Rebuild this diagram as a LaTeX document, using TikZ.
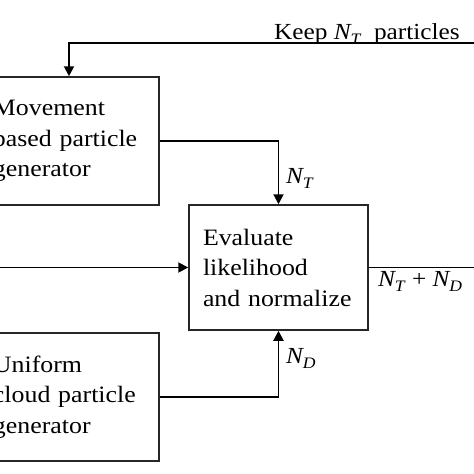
\documentclass[tikz,border=0pt]{standalone}
\usepackage{fontspec}
\setmainfont{Liberation Serif}[FakeStretch=1.1]
\usetikzlibrary{arrows.meta}
\newcommand{\NN}[1]{\textit{N}\kern-0.06em\raisebox{-0.25em}{\fontsize{16}{16}\selectfont\textit{#1}}}
\begin{document}
\begin{tikzpicture}[x=1pt,y=-1pt,
  box/.style={draw=black!85, line width=1.5pt, rectangle, inner xsep=14pt, inner ysep=0pt,
    align=left, font=\fontsize{23.5}{30.5}\selectfont, anchor=center},
  conn/.style={line width=1.9pt},
  arr/.style={conn, -{Triangle[length=10pt,width=10pt]}},
  lbl/.style={font=\fontsize{23}{28}\selectfont, inner sep=0pt}]
\useasboundingbox (0,0) rectangle (474,474);
\node[box, minimum width=180pt, minimum height=128pt, text width=152pt] (gen1) at (69,141)
  {Movement\\based particle\\generator};
\node[box, minimum width=179pt, minimum height=125pt, text width=151pt] (eval) at (278.5,267.5)
  {Evaluate\\likelihood\\and normalize};
\node[box, minimum width=180pt, minimum height=128pt, text width=152pt] (gen2) at (69,397)
  {Uniform\\cloud particle\\generator};
\coordinate (fb) at (490,43);
\coordinate (src) at (-10,267.5);
\coordinate (dst) at (490,267.5);
\draw[arr] (fb) -| (gen1.north);
\draw[arr] (gen1.east) -| (eval.north);
\draw[arr] (gen2.east) -| (eval.south);
\draw[arr] (src) -- (eval.west);
\draw[conn] (eval.east) -- (dst);
\node[lbl, anchor=base west] (keep) at (274,39) {Keep \NN{T}\ \ particles};
\node[lbl, anchor=base west] (lnt) at (286,183) {\NN{T}};
\node[lbl, anchor=base west] (lnd) at (286,363) {\NN{D}};
\node[lbl, anchor=base west] (lsum) at (378,286) {\NN{T} + \NN{D}};
\end{tikzpicture}
\end{document}
